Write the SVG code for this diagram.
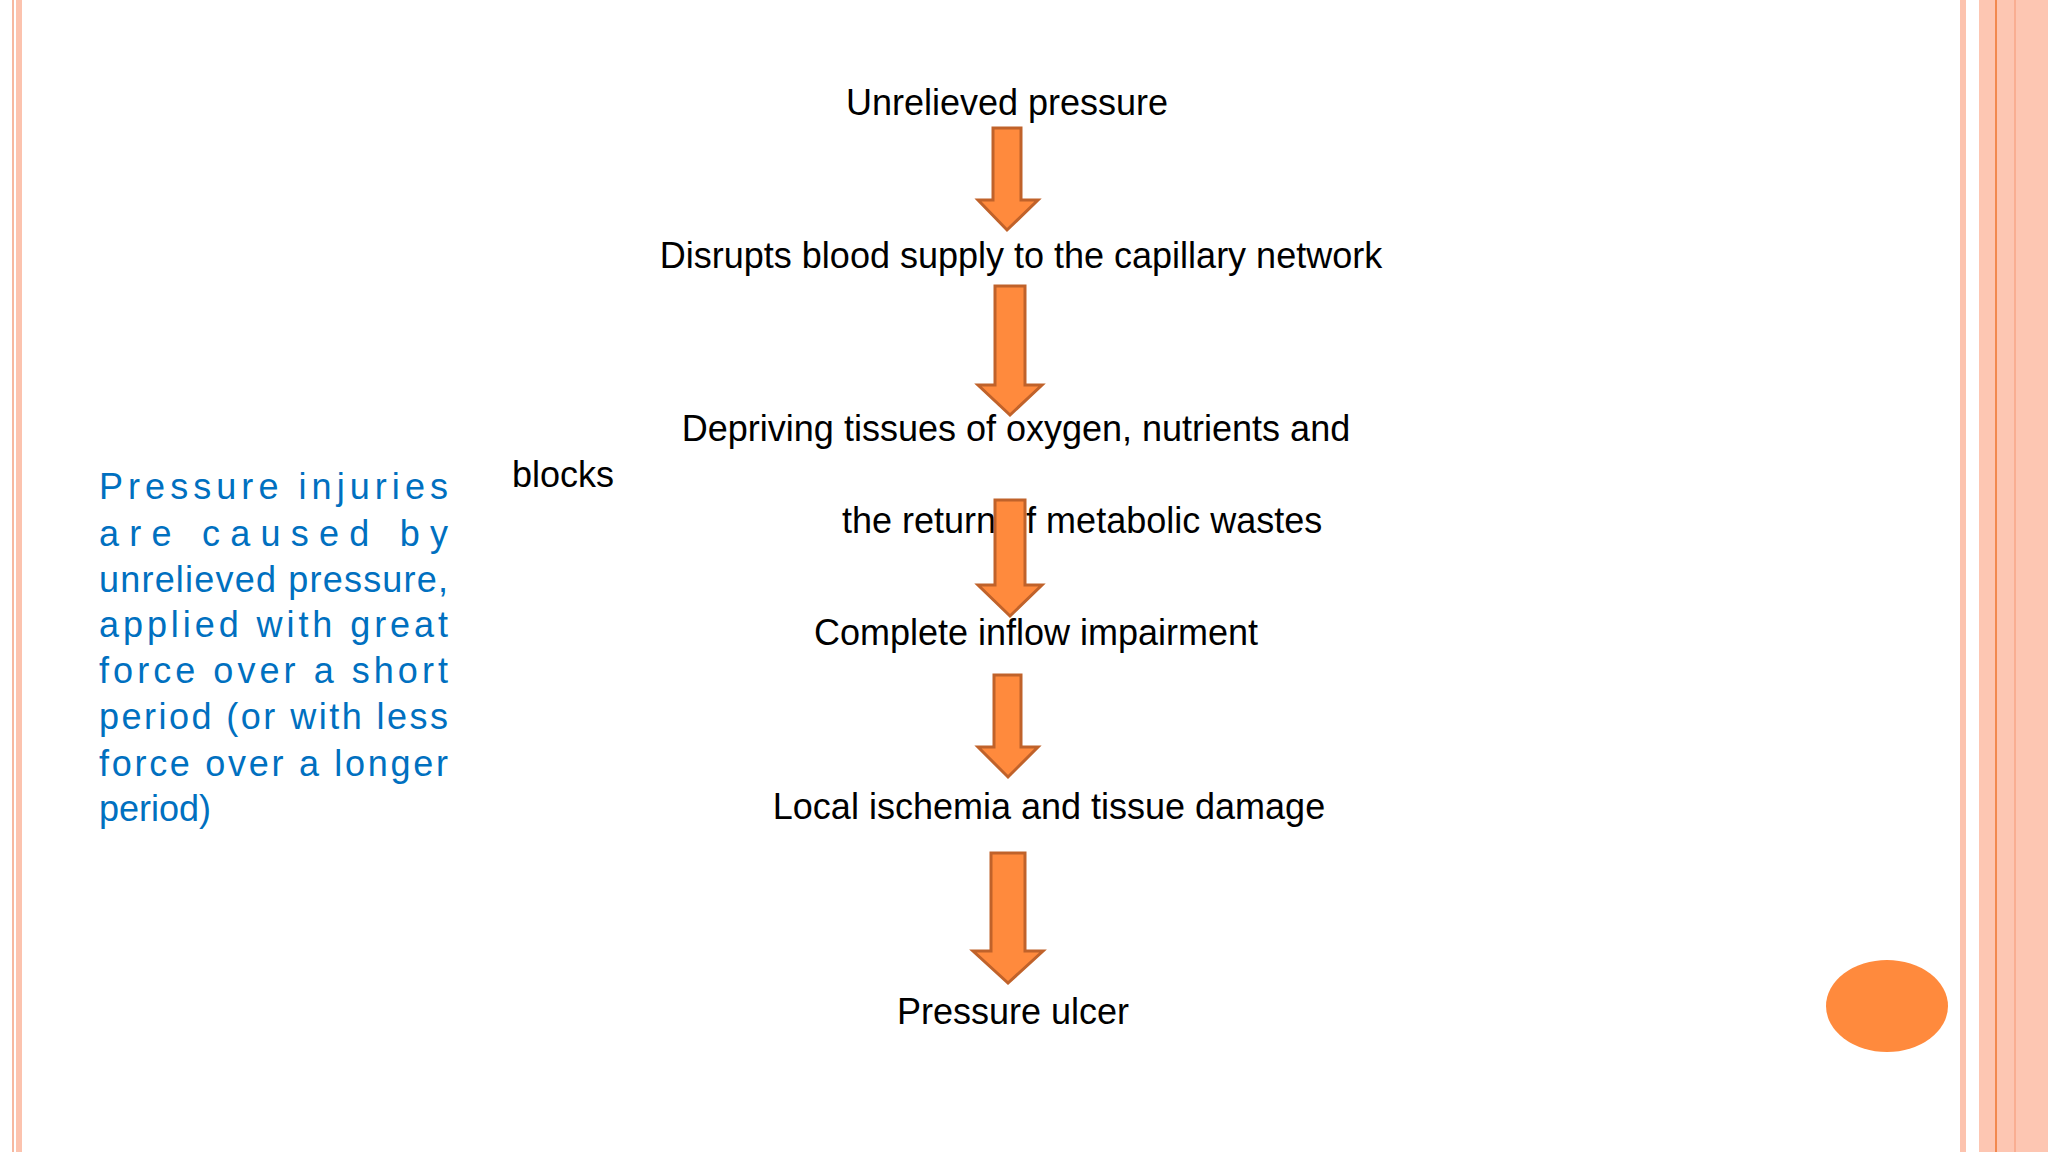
<svg xmlns="http://www.w3.org/2000/svg" width="2048" height="1152" viewBox="0 0 2048 1152">
<style>
.t{font-family:"Liberation Sans",Arial,sans-serif;font-size:36px;fill:#000}
.c{text-anchor:middle}
.b{font-family:"Liberation Sans",Arial,sans-serif;font-size:36px;fill:#0070C0}
.a{fill:#FF8A3D;stroke:#C0622A;stroke-width:3}
</style>
<rect width="2048" height="1152" fill="#FFFFFF"/>
<rect x="12" y="0" width="2" height="1152" fill="#F6B8A0"/>
<rect x="16" y="0" width="6" height="1152" fill="#FCC3AE"/>
<rect x="1960" y="0" width="6" height="1152" fill="#FCC3AE"/>
<rect x="1979" y="0" width="69" height="1152" fill="#FDC6B2"/>
<rect x="1995" y="0" width="2" height="1152" fill="#F2894F"/>
<rect x="2014" y="0" width="2" height="1152" fill="#F9AE92"/>
<g id="n1"><text class="t c" x="1007" y="115">Unrelieved pressure</text></g>
<g id="n2"><text class="t c" x="1021" y="268">Disrupts blood supply to the capillary network</text></g>
<g id="n3"><text class="t c" x="1016" y="441">Depriving tissues of oxygen, nutrients and</text>
<text class="t" x="512" y="487">blocks</text>
<text class="t" x="842" y="533">the return of metabolic wastes</text></g>
<g id="n4"><text class="t c" x="1036" y="645">Complete inflow impairment</text></g>
<g id="n5"><text class="t c" x="1049" y="819">Local ischemia and tissue damage</text></g>
<g id="n6"><text class="t c" x="1013" y="1024">Pressure ulcer</text></g>
<g id="connectors">
<path class="a" d="M993,128H1021V200H1038L1007,230L978,200H993Z"/>
<path class="a" d="M995,286H1025V385H1042L1010,415L978,385H995Z"/>
<path class="a" d="M995,500H1025V585H1042L1010,616L978,585H995Z"/>
<path class="a" d="M994,675H1021V747H1038L1008,777L978,747H994Z"/>
<path class="a" d="M991,853H1025V951H1043L1008,983L973,951H991Z"/>
</g>
<g id="side">
<text class="b" x="99" y="499" textLength="349" lengthAdjust="spacing">Pressure    injuries</text>
<text class="b" x="99" y="546" textLength="349" lengthAdjust="spacing">are    caused    by</text>
<text class="b" x="99" y="592" textLength="349" lengthAdjust="spacing">unrelieved pressure,</text>
<text class="b" x="99" y="637" textLength="349" lengthAdjust="spacing">applied  with  great</text>
<text class="b" x="99" y="683" textLength="349" lengthAdjust="spacing">force  over  a  short</text>
<text class="b" x="99" y="729" textLength="349" lengthAdjust="spacing">period (or with less</text>
<text class="b" x="99" y="776" textLength="349" lengthAdjust="spacing">force  over  a  longer</text>
<text class="b" x="99" y="821">period)</text>
</g>
<ellipse cx="1887" cy="1006" rx="61" ry="46" fill="#FF8A3D"/>
</svg>
